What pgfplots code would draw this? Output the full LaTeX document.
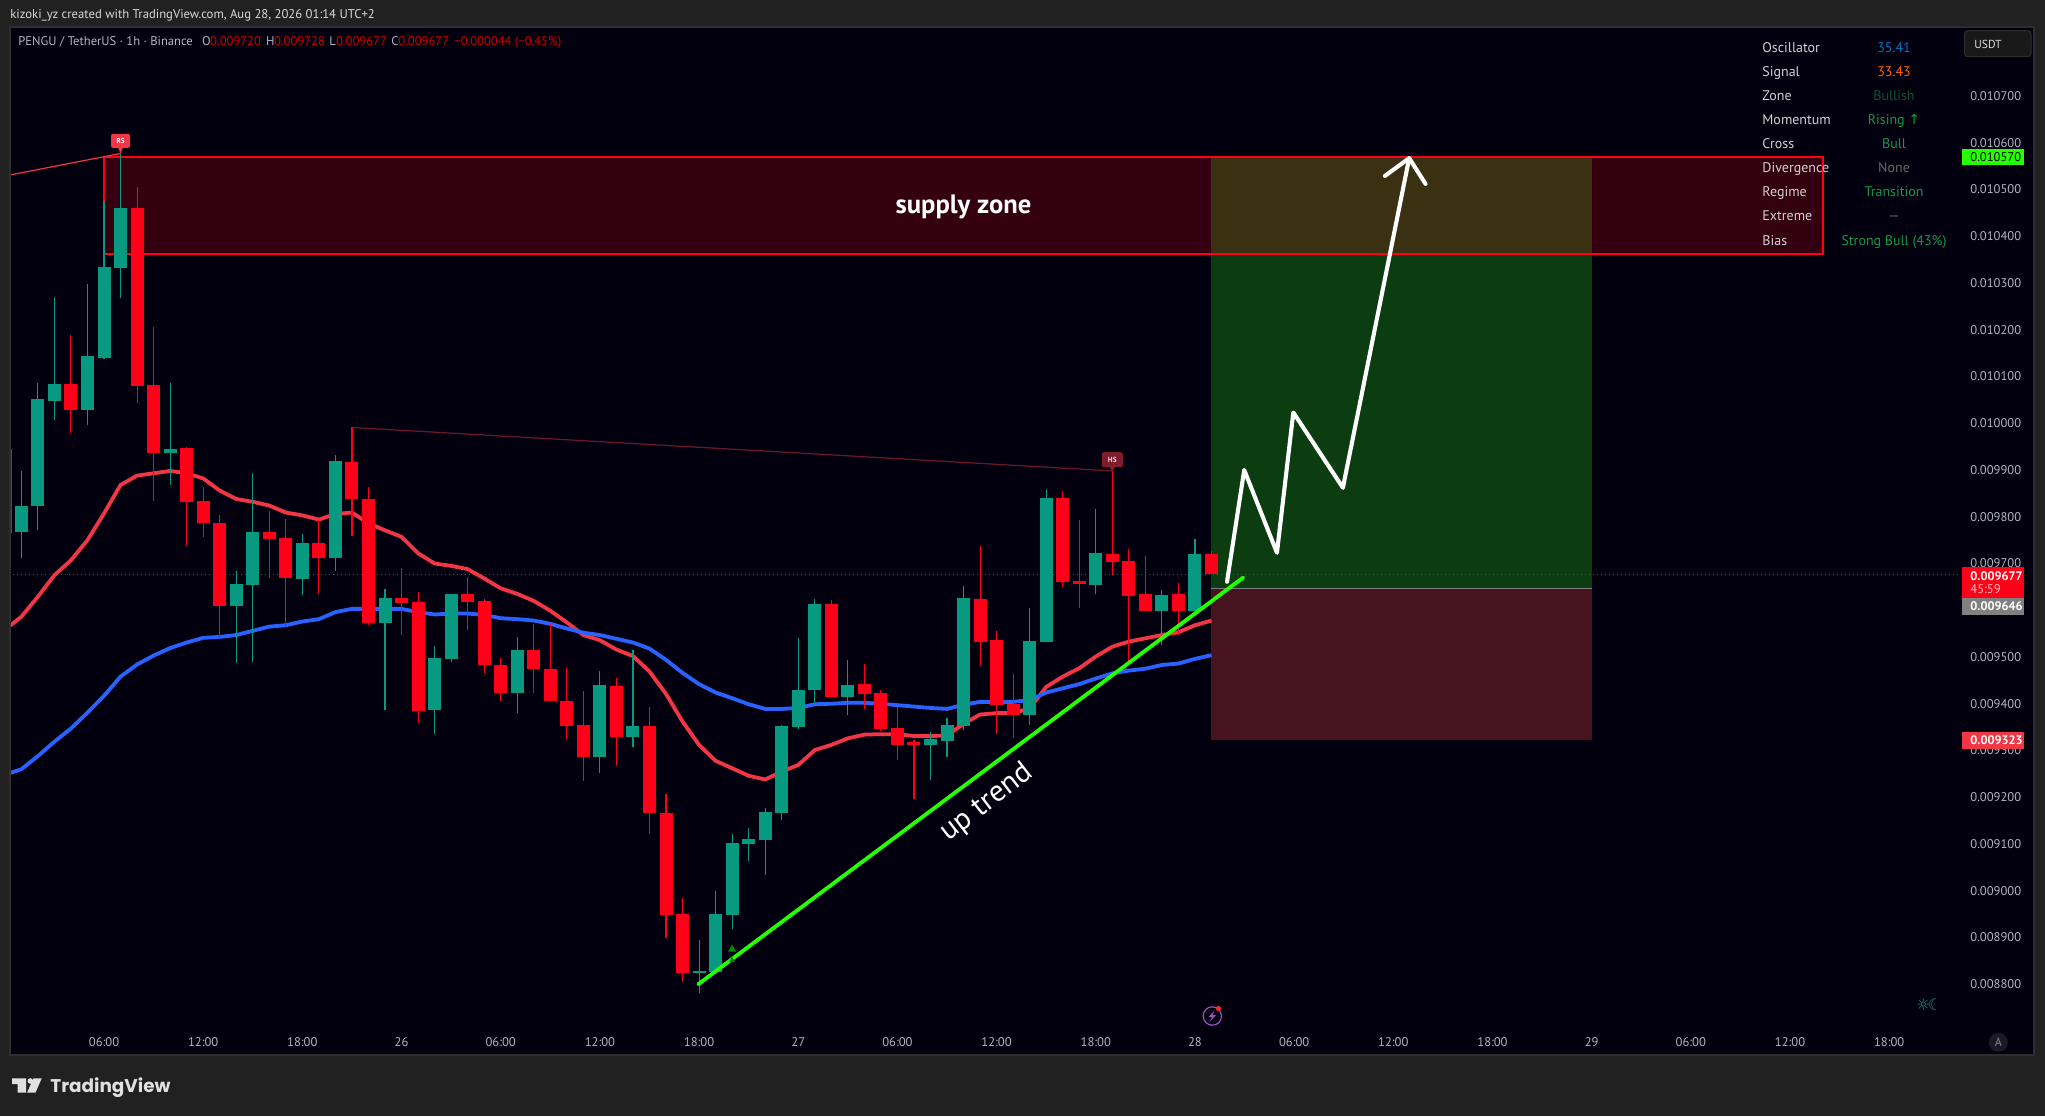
\documentclass[border=0pt]{standalone}
\usepackage{pgfplots}
\usepackage{pgfplotstable}
\usepackage{fontspec}
\pgfplotsset{compat=1.18}
\setmainfont{PT Sans}
\newfontfamily\sym{DejaVu Sans}
\newfontfamily\pop{Poppins}
\definecolor{outer}{HTML}{212121}
\definecolor{pane}{HTML}{02000F}
\definecolor{frameC}{HTML}{2E2E2E}
\definecolor{teal}{HTML}{089981}
\definecolor{cred}{HTML}{FF0018}
\definecolor{mared}{HTML}{F23645}
\definecolor{mablue}{HTML}{2962FF}
\definecolor{lime}{HTML}{26FF00}
\definecolor{tp}{HTML}{0B3D10}
\definecolor{sl}{HTML}{47131F}
\definecolor{lab}{HTML}{B2B5BE}
\definecolor{gval}{HTML}{119A46}
\definecolor{icon}{HTML}{A24FC0}
\definecolor{hsbox}{HTML}{7F1D2D}
\pgfplotstableread{
t o h l c
-5.93 9946 9960 9755 9766
-2 10084 10189 9979 10029
2 10460 10506 10043 10080
3 10082 10206 9834 9937
5 9947 9949 9738 9832
6 9834 9863 9757 9787
7 9787 9804 9541 9610
10 9767 9812 9670 9752
11 9754 9795 9565 9670
13 9744 9793 9635 9712
15 9917 9991 9759 9838
16 9838 9863 9568 9573
18 9626 9690 9547 9616
19 9618 9639 9359 9385
22 9635 9672 9558 9618
23 9620 9624 9466 9483
24 9483 9498 9406 9423
26 9515 9571 9423 9474
27 9474 9571 9406 9406
28 9406 9476 9325 9353
29 9355 9427 9235 9287
31 9438 9455 9267 9329
33 9352 9393 9122 9166
34 9166 9207 8899 8948
35 8950 8984 8805 8825
44 9613 9622 9414 9414
46 9442 9485 9389 9421
47 9423 9429 9342 9346
48 9348 9393 9280 9312
49 9318 9322 9196 9312
53 9624 9737 9481 9532
54 9536 9556 9335 9397
55 9399 9464 9327 9376
58 9840 9855 9650 9660
59 9663 9793 9605 9656
61 9720 9898 9675 9703
62 9705 9731 9489 9631
63 9635 9716 9598 9598
65 9635 9658 9547 9598
67 9720 9727 9677 9677
}\downbars
\pgfplotstableread{
t o h l c
-5 9768 9898 9712 9824
-4 9824 10086 9772 10052
-3 10048 10271 10007 10084
-1 10029 10298 9996 10144
0 10140 10475 10137 10335
1 10333 10577 10268 10460
4 9937 10086 9868 9945
8 9610 9684 9488 9656
9 9655 9894 9490 9767
12 9667 9763 9633 9744
14 9712 9932 9684 9919
17 9573 9645 9387 9626
20 9387 9523 9336 9498
21 9496 9635 9490 9635
25 9423 9543 9380 9515
30 9287 9470 9252 9440
32 9329 9515 9308 9352
36 8825 8895 8781 8828
37 8827 8999 8824 8950
38 8948 9121 8918 9102
39 9101 9134 9064 9111
40 9109 9177 9034 9168
41 9166 9355 9151 9352
42 9350 9541 9346 9429
43 9429 9624 9402 9613
45 9414 9494 9376 9440
50 9312 9340 9237 9325
51 9320 9370 9286 9355
52 9352 9652 9344 9626
56 9376 9605 9355 9534
57 9532 9859 9532 9840
60 9654 9817 9635 9722
64 9598 9643 9526 9633
66 9598 9752 9598 9720
}\upbars
\pgfplotstableread{
t r b
-6 9558 9248
-5 9586 9260
-4 9629 9288
-3 9675 9319
-2 9707 9347
-1 9750 9381
0 9807 9417
1 9868 9458
2 9888 9484
3 9893 9503
4 9898 9519
5 9893 9531
6 9882 9541
7 9856 9543
8 9838 9547
9 9832 9556
10 9824 9565
11 9809 9568
12 9803 9576
13 9794 9581
14 9806 9596
15 9809 9603
16 9786 9603
17 9771 9603
18 9757 9603
19 9722 9596
20 9700 9591
21 9695 9593
22 9688 9593
23 9668 9590
24 9647 9583
25 9635 9581
26 9620 9578
27 9599 9571
28 9574 9561
29 9547 9552
30 9536 9547
31 9516 9539
32 9502 9531
33 9469 9518
34 9421 9494
35 9362 9466
36 9312 9442
37 9278 9424
38 9262 9412
39 9246 9399
40 9238 9389
41 9255 9389
42 9269 9391
43 9301 9399
44 9312 9400
45 9326 9402
46 9334 9402
47 9335 9400
48 9335 9397
49 9331 9394
50 9331 9391
51 9332 9389
52 9357 9398
53 9377 9404
54 9380 9404
55 9380 9404
56 9390 9408
57 9436 9424
58 9458 9433
59 9476 9442
60 9501 9454
61 9522 9465
62 9533 9471
63 9540 9475
64 9547 9483
65 9553 9486
66 9568 9496
67 9578 9504
}\mas
\begin{document}
\begin{tikzpicture}
\fill[outer] (0,0) rectangle (1022.5pt,558pt);
\fill[pane] (5pt,30.5pt) rectangle (1017pt,544.5pt);
\begin{axis}[at={(5pt,30.5pt)},anchor=south west,scale only axis,width=1012pt,height=514pt,
 xmin=-5.687,xmax=116.76,ymin=8648.7,ymax=10847.6,
 scaled x ticks=false,scaled y ticks=false,
 axis line style={draw=none},major tick length=0pt,tick style={draw=none},
 xtick={-6,0,6,12,18,24,30,36,42,48,54,60,66,72,78,84,90,96,102,108},
 xticklabels={25,06:00,12:00,18:00,26,06:00,12:00,18:00,27,06:00,12:00,18:00,28,06:00,12:00,18:00,29,06:00,12:00,18:00},
 ytick={8800,8900,9000,9100,9200,9300,9400,9500,9600,9700,9800,9900,10000,10100,10200,10300,10400,10500,10600,10700},
 yticklabels={0.008800,0.008900,0.009000,0.009100,0.009200,0.009300,0.009400,0.009500,0.009600,0.009700,0.009800,0.009900,0.010000,0.010100,0.010200,0.010300,0.010400,0.010500,0.010600,0.010700},
 yticklabel pos=right,
 tick label style={font=\fontsize{6.3}{7}\selectfont,text=lab,inner sep=0pt},
 x tick label style={anchor=center,yshift=6.65pt},
 y tick label style={anchor=west,xshift=-32pt},
 clip=true]
% position tool
\addplot[fill=tp,draw=none] coordinates {(67,10570)(90,10570)(90,9646)(67,9646)} -- cycle;
\addplot[fill=sl,draw=none] coordinates {(67,9646)(90,9646)(90,9323)(67,9323)} -- cycle;
\addplot[color=lab!70!black,line width=0.5pt] coordinates {(67,9646)(90,9646)};
% supply zone
\addplot[draw=none,fill=cred,fill opacity=0.2] coordinates {(0,10570)(104,10570)(104,10362)(0,10362)} -- cycle;
\addplot[draw=cred,line width=0.8pt] coordinates {(0,10570)(104,10570)(104,10362)(0,10362)} -- cycle;
% current price line
\addplot[cred,line width=0.5pt,dash pattern=on 0.5pt off 1.5pt] coordinates {(-6,9677)(112.3,9677)};
% divergence lines
\addplot[mared,line width=0.6pt] coordinates {(-5.7,10531)(1,10577)};
\addplot[color=mared!45!pane,line width=0.6pt] coordinates {(15,9991)(61,9898)};
% moving averages
\addplot[mared,line width=1.9pt] table[x=t,y=r] {\mas};
\addplot[mablue,line width=1.9pt] table[x=t,y=b] {\mas};
% wicks
\addplot[teal,line width=0.55pt,mark=none,-,quiver={u=0,v=\thisrow{h}-\thisrow{l}}] table[x=t,y=l] {\upbars};
\addplot[cred,line width=0.55pt,mark=none,-,quiver={u=0,v=\thisrow{h}-\thisrow{l}}] table[x=t,y=l] {\downbars};
% bodies
\addplot[teal,line width=6.5pt,mark=none,-,quiver={u=0,v=\thisrow{c}-\thisrow{o}}] table[x=t,y=o] {\upbars};
\addplot[cred,line width=6.5pt,mark=none,-,quiver={u=0,v=\thisrow{o}-\thisrow{c}}] table[x=t,y=c] {\downbars};
% signal triangles
\addplot[only marks,mark=triangle*,mark size=2pt,color=green!50!black,mark options={draw=none,fill=green!55!black}] coordinates {(38,8875)};
\addplot[only marks,mark=triangle*,mark size=1.4pt,color=green!50!black,mark options={draw=none,fill=green!55!black}] coordinates {(38,8851)};
% trend line
\addplot[lime,line width=1.9pt,line cap=round] coordinates {(35.95,8800)(68.92,9670)};
% projected path
\addplot[white,line width=2.05pt,line cap=round,line join=round] coordinates {(67.94,9661)(68.98,9900)(70.96,9723)(71.95,10023)(74.95,9862)(78.96,10567)};
\addplot[white,line width=2.05pt,line cap=round,line join=round] coordinates {(77.49,10529)(78.96,10567)(79.95,10512)};
% pattern markers
\addplot[fill=mared,draw=none] coordinates {(0.82,10592)(1.18,10592)(1,10577)} -- cycle;
\addplot[fill=hsbox,draw=none] coordinates {(60.8,9909)(61.2,9909)(61,9896)} -- cycle;
\node[fill=mared,rounded corners=1pt,minimum width=9.5pt,minimum height=7pt,inner sep=0pt,text=white,font=\bfseries\fontsize{3.5}{4}\selectfont] at (axis cs:1,10604) {RS};
\node[fill=hsbox,rounded corners=1pt,minimum width=10.5pt,minimum height=7.5pt,inner sep=0pt,text=white!85!black,font=\bfseries\fontsize{3.7}{4}\selectfont] at (axis cs:61,9922) {HS};
\node[text=white,font=\bfseries\fontsize{13.3}{15}\selectfont] at (axis cs:52,10463) {supply zone};
\node[text=white,rotate=37.5,font=\fontsize{15}{17}\selectfont] at (axis cs:53.4,9188) {up trend};
\end{axis}
\begin{scope}[shift={(0,558pt)},x=0.5pt,y=-0.5pt]
\fill[outer] (0,27) rectangle (9.2,1060);
\draw[frameC,line width=0.6pt] (10,27) rectangle (2034,1055);
% top strip
\node[anchor=base west,inner sep=0,text=white!85!black,font=\fontsize{6.35}{7}\selectfont] at (10,19) {kizoki\_yz created with TradingView.com, Aug 28, 2026 01:14 UTC+2};
\begin{scope}[every node/.style={anchor=base west,inner sep=0,font=\fontsize{6.3}{7}\selectfont}]
\node[text=lab] at (18,46) {PENGU / TetherUS · 1h · Binance};
\node[text=lab] at (201.8,46) {O}; \node[text=red!80!black] at (209.8,46) {0.009720};
\node[text=lab] at (265.6,46) {H}; \node[text=red!80!black] at (273.7,46) {0.009728};
\node[text=lab] at (329,46) {L}; \node[text=red!80!black] at (335.7,46) {0.009677};
\node[text=lab] at (391,46) {C}; \node[text=red!80!black] at (398,46) {0.009677};
\node[text=red!80!black] at (454,46) {−0.000044 (−0.45\%)};
\end{scope}
% table
\begin{scope}[every node/.style={anchor=base west,inner sep=0,text=white!82!black,font=\fontsize{7}{8}\selectfont}]
\node at (1762,52.7) {Oscillator};
\node at (1762,76.7) {Signal};
\node at (1762,100.8) {Zone};
\node at (1762,124.8) {Momentum};
\node at (1762,148.9) {Cross};
\node at (1762,172.9) {Divergence};
\node at (1762,197) {Regime};
\node at (1762,221) {Extreme};
\node at (1762,245.1) {Bias};
\end{scope}
\begin{scope}[every node/.style={anchor=base,inner sep=0,font=\fontsize{7}{8}\selectfont}]
\node[text=blue!40!cyan!75!black] at (1894,52.7) {35.41};
\node[text=orange!80!red] at (1894,76.7) {33.43};
\node[text=gval!55!black] at (1894,100.8) {Bullish};
\node[text=gval] at (1894,124.8) {Rising {\sym ↑}};
\node[text=gval] at (1894,148.9) {Bull};
\node[text=gray!80!black] at (1894,172.9) {None};
\node[text=gval] at (1894,197) {Transition};
\node[text=gray!80!black] at (1894,221) {—};
\node[text=gval] at (1894,245.1) {Strong Bull (43\%)};
\end{scope}
% price boxes
\fill[lime] (1962,149) rectangle (2024,165.3);
\fill[cred] (1962,567) rectangle (2024,597.7);
\fill[gray] (1962,598) rectangle (2024,614.7);
\fill[mared] (1962,732) rectangle (2024,748.7);
\begin{scope}[every node/.style={anchor=base west,inner sep=0,font=\fontsize{6.3}{7}\selectfont}]
\node[text=black] at (1970,161.7) {0.010570};
\node[text=white,font=\bfseries\fontsize{6.2}{7}\selectfont] at (1970,580) {0.009677};
\node[text=white!75!red] at (1970,593.7) {45:59};
\node[text=white,font=\bfseries\fontsize{6.2}{7}\selectfont] at (1970,610.7) {0.009646};
\node[text=white,font=\bfseries\fontsize{6.2}{7}\selectfont] at (1970,744.7) {0.009323};
\end{scope}
% currency button
\draw[fill=black!90!white,draw=frameC,line width=0.5pt,rounded corners=1.5pt] (1964.7,30.7) rectangle (2031,56.7);
\node[anchor=base west,inner sep=0,text=white!85!black,font=\fontsize{5.8}{7}\selectfont] at (1974,49) {USDT};
% icons
\draw[icon,line width=0.6pt] (1212.3,1016) circle[radius=9.2];
\fill[red!85!white] (1218.5,1008.5) circle[radius=2.6];
\fill[icon] (1214.5,1010.5)--(1208.5,1017)--(1212,1017)--(1209.5,1022)--(1216,1015)--(1212.5,1015)--cycle;
\node[anchor=center,inner sep=0,text=teal,font=\sym\fontsize{8}{9}\selectfont] at (1923.3,1005) {☼};
\node[anchor=center,inner sep=0,text=teal,font=\sym\fontsize{8}{9}\selectfont] at (1935,1005) {☾};
\fill[white!10!pane] (1998.3,1042.3) circle[radius=9.5];
\node[anchor=center,inner sep=0,text=lab!75!black,font=\fontsize{6}{7}\selectfont] at (1998.3,1042.3) {A};
% logo
\fill[white!88!black] (12,1078.3)--(26,1078.3)--(26,1092.7)--(17.7,1092.7)--(17.7,1084)--(12,1084)--cycle;
\fill[white!88!black] (30.3,1081) circle[radius=2.8];
\fill[white!88!black] (33.5,1078.3)--(41.7,1078.3)--(35.5,1092.7)--(27,1092.7)--cycle;
\node[anchor=base west,inner sep=0,text=white!88!black,font=\pop\bfseries\fontsize{9.2}{12}\selectfont] at (50,1092) {TradingView};
\end{scope}
\path (0,0) rectangle (1022.5pt,558pt);
\end{tikzpicture}
\end{document}
